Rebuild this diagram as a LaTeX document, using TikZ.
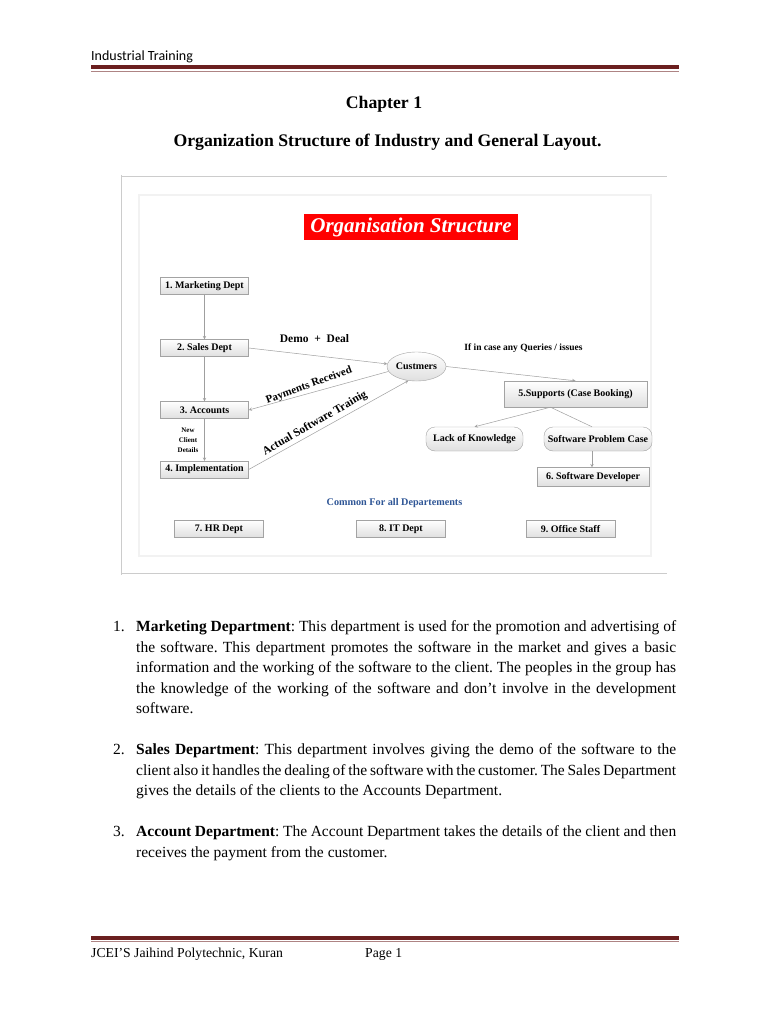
\documentclass[tikz,border=0pt]{standalone}
\usepackage{fontspec}
\setmainfont{Liberation Serif}
\newfontfamily\headfont{Carlito}
\usetikzlibrary{shapes.geometric}
\definecolor{rulered}{HTML}{6B1F1F}
\definecolor{boxline}{HTML}{A3A3A3}
\definecolor{chartblue}{HTML}{2F5696}
\hyphenpenalty=10000
\exhyphenpenalty=10000
\frenchspacing
\begin{document}
\begin{tikzpicture}[x=1pt, y=-1pt, >=stealth, font=\fontsize{15.5}{20.5}\selectfont,
	dept/.style={draw=boxline, top color=white, bottom color=gray!25, inner sep=0, minimum width=88, minimum height=17, font=\fontsize{10}{11}\selectfont\bfseries},
	casebox/.style={dept, rounded corners=9, minimum height=24},
	flow/.style={->, draw=gray!75, line width=0.5},
	tag/.style={inner sep=0, font=\fontsize{11}{12}\selectfont\bfseries},
	para/.style={anchor=north west, inner sep=0, text width=540, align=justify},
	num/.style={anchor=base west, inner sep=0}]
	\useasboundingbox (0,0) rectangle (768,1024);
	\fill[white] (0,0) rectangle (768,1024);
	
	\node[num, font=\headfont\fontsize{14}{16}\selectfont] (header) at (91,60.5) {Industrial Training};
	\fill[rulered] (91,65) rectangle (679,69);
	\draw[rulered!55, line width=0.8] (91,71) -- (679,71);
	
	\node[font=\fontsize{17.7}{20}\selectfont\bfseries] (chap) at (384,104) {Chapter 1};
	\node[font=\fontsize{17.7}{20}\selectfont\bfseries] (heading) at (387.5,142) {Organization Structure of Industry and General Layout.};
	
	\draw[gray!40] (121,175) -- (121,575);
	\draw[gray!40] (121,176.5) -- (667,176.5);
	\draw[gray!40] (121,573) -- (667,573);
	\draw[gray!10, line width=1.5] (139,195) rectangle (651,556);
	
	\node[fill=red, text=white, inner sep=0, minimum width=214, minimum height=26, font=\fontsize{21}{24}\selectfont\bfseries\itshape] (title) at (411,227) {Organisation Structure};
	
	\node[dept] (mkt) at (204.5,286) {1. Marketing Dept};
	\node[dept] (sales) at (204.5,348) {2. Sales Dept};
	\node[dept] (acc) at (204.5,410) {3. Accounts};
	\node[dept] (impl) at (204.5,469.5) {4. Implementation};
	\node[ellipse, draw=boxline, top color=white, bottom color=gray!25, inner sep=0, minimum width=59, minimum height=29, font=\fontsize{10}{11}\selectfont\bfseries] (cust) at (416.5,366.5) {Custmers};
	\node[dept, minimum width=143, minimum height=26] (sup) at (575.5,394) {5.Supports (Case Booking)};
	\node[casebox, minimum width=97] (lack) at (474.5,439) {Lack of Knowledge};
	\node[casebox, minimum width=108] (prob) at (598,439) {Software Problem Case};
	\node[dept, minimum width=112, minimum height=19] (dev) at (593,477) {6. Software Developer};
	\node[dept, minimum width=89] (hr) at (219,529) {7. HR Dept};
	\node[dept, minimum width=89] (it) at (401,529) {8. IT Dept};
	\node[dept, minimum width=89] (staff) at (570.5,529) {9. Office Staff};
	
	\node[tag, font=\fontsize{11.5}{13}\selectfont\bfseries] (demo) at (314.5,339) {Demo \ + \ Deal};
	\node[tag, font=\fontsize{9.5}{11}\selectfont\bfseries] (query) at (523.5,348) {If in case any Queries / issues};
	\node[tag, rotate=20] (pay) at (309,385.5) {Payments Received};
	\node[tag, font=\fontsize{11.5}{13}\selectfont\bfseries, rotate=30] (train) at (315,423.5) {Actual Software Trainig};
	\node[tag, align=center, font=\fontsize{7}{10}\selectfont\bfseries] (newc) at (188,440) {New\\Client\\Details};
	\node[tag, text=chartblue, font=\fontsize{10.2}{12}\selectfont\bfseries] (common) at (394.5,503) {Common For all Departements};
	
	\draw[flow] (mkt) -- (sales);
	\draw[flow] (sales) -- (acc);
	\draw[flow] (acc) -- (impl);
	\draw[flow] (sales.east) -- (cust.175);
	\draw[flow] (cust.190) -- (acc.east);
	\draw[flow] (impl.east) -- (cust.240);
	\draw[flow] (cust.east) -- (sup.north);
	\draw[flow] ([xshift=-25]sup.south) -- (lack.north);
	\draw[draw=gray!75, line width=0.5] ([xshift=-25]sup.south) -- ([xshift=-6]prob.north);
	\draw[flow] ([xshift=-6]prob.south) -- ([xshift=-6]prob.south |- dev.north);
	
	\node[num] (num1) at (113,631) {1.};
	\node[para] (item1) at (136,620.5) {\textbf{Marketing Department}: This department is used for the promotion and advertising of the software. This department promotes the software in the market and gives a basic information and the working of the software to the client. The peoples in the group has the knowledge of the working of the software and don't involve in the development software.};
	\node[num] (num2) at (113,754) {2.};
	\node[para] (item2) at (136,743.5) {\textbf{Sales Department}: This department involves giving the demo of the software to the client also it handles the dealing of the software with the customer. The Sales Department gives the details of the clients to the Accounts Department.};
	\node[num] (num3) at (113,836) {3.};
	\node[para] (item3) at (136,825.5) {\textbf{Account Department}: The Account Department takes the details of the client and then receives the payment from the customer.};
	
	\fill[rulered] (91,936) rectangle (679,939.5);
	\draw[rulered!55, line width=0.8] (91,941.5) -- (679,941.5);
	\node[num, font=\fontsize{13.7}{16}\selectfont] (school) at (91,957) {JCEI'S Jaihind Polytechnic, Kuran};
	\node[num, font=\fontsize{13.7}{16}\selectfont] (page) at (365,957) {Page 1};
\end{tikzpicture}
\end{document}
